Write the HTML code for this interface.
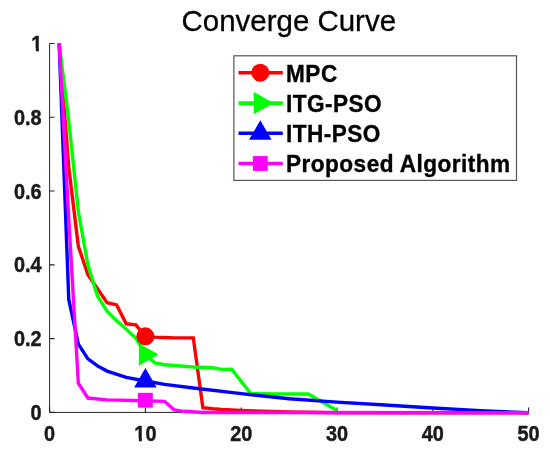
<!DOCTYPE html>
<html><head><meta charset="utf-8"><title>Converge Curve</title>
<style>html,body{margin:0;padding:0;background:#fff}svg{display:block}text{font-family:"Liberation Sans",Arial,Helvetica,sans-serif;fill:#000}.b{font-weight:bold;fill:#1a1a1a;stroke:#1a1a1a;stroke-width:0.45px}</style></head><body>
<svg width="550" height="449" viewBox="0 0 550 449">
<rect width="550" height="449" fill="#fff"/>
<text transform="translate(288.8,30.7) scale(0.982,1)" text-anchor="middle" font-size="30" stroke="#000" stroke-width="0.3">Converge Curve</text>
<path d="M49.6 43.5V412.4H528.6" fill="none" stroke="#262626" stroke-width="1"/>
<path d="M49.60 412.4v-5M49.6 412.40h5M145.40 412.4v-5M49.6 338.62h5M241.20 412.4v-5M49.6 264.84h5M337.00 412.4v-5M49.6 191.06h5M432.80 412.4v-5M49.6 117.28h5M528.60 412.4v-5M49.6 43.50h5" fill="none" stroke="#262626" stroke-width="1.1"/>
<text class="b" transform="translate(49.60,441.1) scale(0.93,1)" text-anchor="middle" font-size="21.4">0</text>
<text class="b" transform="translate(145.40,441.1) scale(0.93,1)" text-anchor="middle" font-size="21.4">10</text>
<text class="b" transform="translate(241.20,441.1) scale(0.93,1)" text-anchor="middle" font-size="21.4">20</text>
<text class="b" transform="translate(337.00,441.1) scale(0.93,1)" text-anchor="middle" font-size="21.4">30</text>
<text class="b" transform="translate(432.80,441.1) scale(0.93,1)" text-anchor="middle" font-size="21.4">40</text>
<text class="b" transform="translate(528.60,441.1) scale(0.93,1)" text-anchor="middle" font-size="21.4">50</text>
<text class="b" transform="translate(41.6,420.05) scale(0.93,1)" text-anchor="end" font-size="21.4">0</text>
<text class="b" transform="translate(41.6,346.27) scale(0.93,1)" text-anchor="end" font-size="21.4">0.2</text>
<text class="b" transform="translate(41.6,272.49) scale(0.93,1)" text-anchor="end" font-size="21.4">0.4</text>
<text class="b" transform="translate(41.6,198.71) scale(0.93,1)" text-anchor="end" font-size="21.4">0.6</text>
<text class="b" transform="translate(41.6,124.93) scale(0.93,1)" text-anchor="end" font-size="21.4">0.8</text>
<text class="b" transform="translate(42.4,51.15) scale(0.93,1)" text-anchor="end" font-size="21.4">1</text>
<rect x="32.00" y="47.97" width="3.81" height="4.18" fill="#fff"/><rect x="38.87" y="47.97" width="3.56" height="4.18" fill="#fff"/>
<rect x="135.00" y="437.92" width="3.81" height="4.18" fill="#fff"/><rect x="141.87" y="437.92" width="3.56" height="4.18" fill="#fff"/>
<polyline points="59.18,43.50 68.76,167.22 78.34,246.25 87.92,274.68 97.50,288.72 107.08,302.75 116.66,304.96 126.24,323.80 135.82,324.91 145.40,336.35 154.98,337.09 164.56,337.46 174.14,337.83 183.72,337.83 193.30,337.83 202.88,407.63 212.46,408.74 222.04,409.48 241.20,410.40 289.10,412.06 337.00,412.80 528.60,412.80" fill="none" stroke="#ff0000" stroke-width="3.4" stroke-linejoin="miter" stroke-miterlimit="3"/>
<polyline points="59.18,43.50 68.76,121.05 78.34,211.53 87.92,265.08 97.50,296.10 107.08,311.24 116.66,320.84 126.24,329.34 135.82,338.20 145.40,354.45 154.98,362.94 164.56,364.79 193.30,367.01 212.46,367.75 222.04,369.41 231.62,369.22 250.78,393.60 279.52,393.97 308.26,393.97 337.00,410.58" fill="none" stroke="#00ff00" stroke-width="3.4" stroke-linejoin="miter" stroke-miterlimit="3"/>
<polyline points="59.18,43.50 68.76,299.42 78.34,344.11 87.92,358.88 97.50,365.90 107.08,371.07 126.24,377.35 145.40,381.04 164.56,384.36 193.30,388.06 241.20,393.60 289.10,398.77 337.00,402.09 384.90,405.04 432.80,408.00 480.70,410.58 528.60,412.80" fill="none" stroke="#0000ff" stroke-width="3.4" stroke-linejoin="miter" stroke-miterlimit="3"/>
<polyline points="59.18,43.50 68.76,218.92 78.34,383.26 87.92,398.03 107.08,399.87 145.40,400.80 164.56,401.35 174.14,409.85 183.72,411.32 202.88,412.43 528.60,412.80" fill="none" stroke="#ff00ff" stroke-width="3.4" stroke-linejoin="miter" stroke-miterlimit="3"/>
<circle cx="145.40" cy="336.35" r="9.0" fill="#ff0000"/>
<path d="M138.87 343.20L158.47 354.45L138.87 365.70Z" fill="#00ff00"/>
<path d="M134.15 387.57L145.40 367.97L156.65 387.57Z" fill="#0000ff"/>
<rect x="138.00" y="392.84" width="14.8" height="14.8" fill="#ff00ff"/>
<rect x="233.9" y="55.8" width="282.6" height="124.6" fill="#fff" stroke="#555" stroke-width="1.2"/>
<path d="M238.5 72.7H282.8" stroke="#ff0000" stroke-width="3.6" fill="none"/>
<text class="b" transform="translate(286.1,81.5) scale(0.95,1)" font-size="23.8" style="fill:#000;stroke:#000;stroke-width:0.35px;letter-spacing:0.47px">MPC</text>
<path d="M238.5 103.1H282.8" stroke="#00ff00" stroke-width="3.6" fill="none"/>
<text class="b" transform="translate(286.1,111.9) scale(0.95,1)" font-size="23.8" style="fill:#000;stroke:#000;stroke-width:0.35px;letter-spacing:0.47px">ITG-PSO</text>
<path d="M238.5 133.3H282.8" stroke="#0000ff" stroke-width="3.6" fill="none"/>
<text class="b" transform="translate(286.1,142.1) scale(0.95,1)" font-size="23.8" style="fill:#000;stroke:#000;stroke-width:0.35px;letter-spacing:0.47px">ITH-PSO</text>
<path d="M238.5 163.5H282.8" stroke="#ff00ff" stroke-width="3.6" fill="none"/>
<text class="b" transform="translate(286.1,172.3) scale(0.95,1)" font-size="23.8" style="fill:#000;stroke:#000;stroke-width:0.35px;letter-spacing:0.47px">Proposed Algorithm</text>
<circle cx="260.30" cy="72.70" r="9.0" fill="#ff0000"/>
<path d="M253.77 91.85L273.37 103.10L253.77 114.35Z" fill="#00ff00"/>
<path d="M249.05 139.83L260.30 120.23L271.55 139.83Z" fill="#0000ff"/>
<rect x="252.90" y="156.10" width="14.8" height="14.8" fill="#ff00ff"/>
</svg></body></html>
